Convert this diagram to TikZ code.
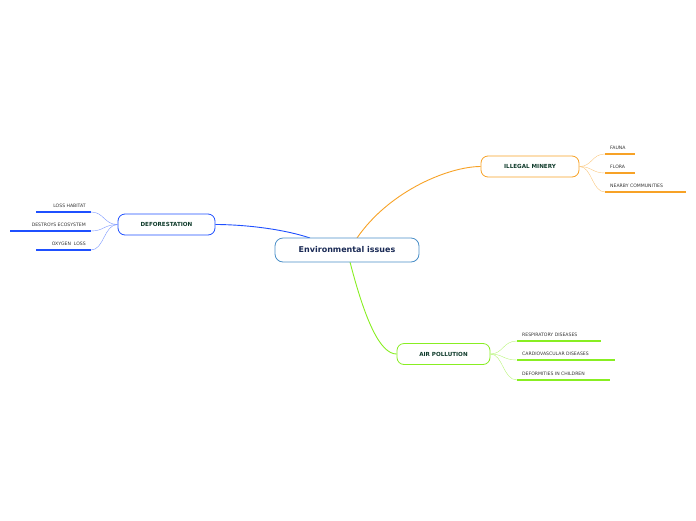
\documentclass[tikz,border=0pt]{standalone}
\usepackage{fontspec}
\setmainfont{DejaVu Sans}
\begin{document}
\begin{tikzpicture}[x=1pt,y=-1pt,
 cen/.style={draw=cblue,line width=0.8pt,rounded corners=8pt,fill=white,minimum width=144pt,minimum height=24pt,font=\bfseries\fontsize{8}{9}\selectfont,text=cnavy,inner sep=0},
 br/.style={draw=#1,line width=0.8pt,rounded corners=7pt,fill=white,minimum height=21pt,font=\bfseries\fontsize{5.6}{6}\selectfont,text=cdg,inner sep=0},
 lf/.style={font=\fontsize{4.6}{5}\selectfont,text=black!80,inner sep=0},
 ln/.style={line width=1.2pt,#1},
 cn/.style={line width=0.9pt,#1},
 sc/.style={line width=0.4pt,#1!60}]
\definecolor{cblue}{HTML}{4A8FC8}\definecolor{cnavy}{HTML}{1A2A55}\definecolor{cdg}{HTML}{0E3A2A}
\definecolor{bb}{HTML}{1F50FF}\definecolor{oo}{HTML}{F7A226}\definecolor{gg}{HTML}{88EE22}
\useasboundingbox (0,0) rectangle (696,520);
% connectors
\coordinate (c1) at (310,238);\coordinate (c2) at (357,238);\coordinate (c3) at (350,262);
\node[br=bb,minimum width=97pt] (d) at (166.5,224.5) {DEFORESTATION};
\node[br=oo,minimum width=98pt] (m) at (530,166.5) {ILLEGAL MINERY};
\node[br=gg,minimum width=93pt] (a) at (443.5,354) {AIR POLLUTION};
\draw[cn=bb] (c1) .. controls (280,228) and (240,224.5) .. (d.east);
\draw[cn=oo] (c2) .. controls (390,190) and (450,166.5) .. (m.west);
\draw[cn=gg] (c3) .. controls (365,320) and (380,354) .. (a.west);
\node[cen] (c) at (347,250) {Environmental issues};
% deforestation leaves
\coordinate (l1a) at (36,212);\coordinate (l1b) at (91,212);
\coordinate (l2a) at (10,231);\coordinate (l2b) at (91,231);
\coordinate (l3a) at (36,250);\coordinate (l3b) at (91,250);
\foreach \p in {l1,l2,l3}{\draw[ln=bb] (\p a)--(\p b);
 \draw[sc=bb] (d.west) .. controls (104,224.5) and (104,0|-\p b) .. ([yshift=0]\p b);}
\node[lf,anchor=base east] (t1) at (86,207) {LOSS HABITAT};
\node[lf,anchor=base east] (t2) at (86,226) {DESTROYS ECOSYSTEM};
\node[lf,anchor=base east] (t3) at (86,245.5) {OXYGEN\ \ LOSS};
% minery leaves
\coordinate (m1a) at (605,154);\coordinate (m1b) at (635,154);
\coordinate (m2a) at (605,173);\coordinate (m2b) at (635,173);
\coordinate (m3a) at (605,192);\coordinate (m3b) at (686,192);
\foreach \p in {m1,m2,m3}{\draw[ln=oo] (\p a)--(\p b);
 \draw[sc=oo] (m.east) .. controls (592,166.5) and (592,0|-\p a) .. (\p a);}
\node[lf,anchor=base west] (u1) at (610,149) {FAUNA};
\node[lf,anchor=base west] (u2) at (610,168) {FLORA};
\node[lf,anchor=base west] (u3) at (610,187.5) {NEARBY COMMUNITIES};
% air leaves
\coordinate (a1a) at (517,341);\coordinate (a1b) at (601,341);
\coordinate (a2a) at (517,360);\coordinate (a2b) at (615,360);
\coordinate (a3a) at (517,380);\coordinate (a3b) at (610,380);
\foreach \p in {a1,a2,a3}{\draw[ln=gg] (\p a)--(\p b);
 \draw[sc=gg] (a.east) .. controls (503,354) and (503,0|-\p a) .. (\p a);}
\node[lf,anchor=base west] (v1) at (522,336.5) {RESPIRATORY DISEASES};
\node[lf,anchor=base west] (v2) at (522,355.5) {CARDIOVASCULAR DISEASES};
\node[lf,anchor=base west] (v3) at (522,375) {DEFORMITIES IN CHILDREN};
\end{tikzpicture}
\end{document}
